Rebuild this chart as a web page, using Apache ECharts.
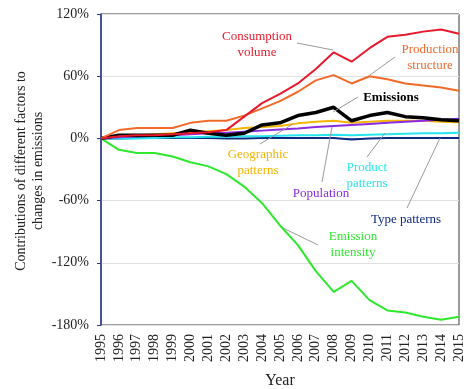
<!DOCTYPE html>
<html>
<head>
<meta charset="utf-8">
<script src="https://cdn.jsdelivr.net/npm/echarts@6/dist/echarts.min.js"></script>
<style>html,body{margin:0;padding:0;background:#fff;}#c{width:474px;height:389px;}</style>
</head>
<body>
<div id="c"></div>
<script>
var years = ['1995','1996','1997','1998','1999','2000','2001','2002','2003','2004','2005','2006','2007','2008','2009','2010','2011','2012','2013','2014','2015'];
var yTicks = [-180, -120, -60, 0, 60, 120];
var consumption = [0, 2, 3, 3, 4, 5, 6, 8, 21, 34, 43, 53, 67, 83, 74, 87, 98, 100, 103, 105, 101];
var production  = [0, 8, 10, 10, 10, 15, 17, 17, 22, 29, 36, 45, 56, 61, 53, 60, 57, 53, 51, 49, 46];
var emissions   = [0, 3, 3, 3, 3, 8, 5, 3, 5, 13, 15, 22, 25, 30, 17, 22, 25, 21, 20, 18, 17];
var geographic  = [0, 2, 3, 4, 5, 6, 7, 8, 10, 11, 12, 14.5, 16, 17, 15, 16, 17, 17, 17, 16, 15.5];
var population  = [0, 1, 2, 2.5, 3, 4, 5, 5.5, 6.5, 7.5, 8.5, 9.5, 11, 12, 13, 14, 15, 16, 17, 18, 19];
var product     = [0, 0, 0, 0.5, 1, 1, 1.5, 1.5, 2, 2, 2.5, 3, 3, 3.5, 3, 3.5, 4, 4.5, 5, 5, 5.5];
var typePat     = [0, 0, 0.5, 0.5, 0.5, 0.5, 0.5, 0, 0, 0.5, 0.5, 0.5, 0.5, 0.5, -1, 0, 0.5, 0.5, 0.5, 0.5, 0.5];
var intensity   = [0, -11, -14, -14, -17.5, -23, -27, -34.5, -46.5, -62.5, -84, -103, -128, -148, -137.5, -156, -166, -168, -172, -175, -172];
var yAxisTitle = 'Contributions of different factors to\nchanges in emissions';

var serif = '"Liberation Serif", "Times New Roman", serif';
var chart = echarts.init(document.getElementById('c'));

function mk(name, data, color, width, z) {
  return { name: name, type: 'line', data: data, symbol: 'none', z: z,
    lineStyle: { color: color, width: width }, itemStyle: { color: color } };
}

function txt(text, x, y, color, bold) {
  return { type: 'text', z: 100, style: { text: text, x: x, y: y, fill: color,
    font: (bold ? 'bold ' : '') + '13px ' + serif, align: 'center', verticalAlign: 'middle', lineHeight: 16 } };
}
function ln(x1, y1, x2, y2) {
  return { type: 'line', z: 99, shape: { x1: x1, y1: y1, x2: x2, y2: y2 }, style: { stroke: '#9a9a9a', lineWidth: 1 } };
}

chart.setOption({
  animation: false,
  backgroundColor: '#fff',
  grid: { left: 101, right: 15, top: 14, bottom: 64, show: true, borderColor: '#3a3a3a', borderWidth: 1,
    containLabel: false, outerBoundsMode: 'none' },
  xAxis: {
    type: 'category', data: years, boundaryGap: false,
    name: 'Year', nameLocation: 'middle', nameGap: 48,
    nameTextStyle: { fontFamily: serif, fontSize: 16, color: '#222' },
    axisLine: { lineStyle: { color: '#8d9cc4', width: 1 } },
    axisTick: { show: false },
    axisLabel: { rotate: 90, fontFamily: serif, fontSize: 14, color: '#222', margin: 9, interval: 0 }
  },
  yAxis: {
    type: 'value', min: yTicks[0], max: yTicks[yTicks.length - 1], interval: 60,
    axisLine: { show: true, lineStyle: { color: '#2b3990', width: 1.5 } },
    axisTick: { show: true, inside: false, length: 4, lineStyle: { color: '#2b3990' } },
    splitLine: { show: true, lineStyle: { color: '#e0e0e0', width: 1 } },
    axisLabel: { formatter: '{value}%', fontFamily: serif, fontSize: 14, color: '#222', margin: 12 }
  },
  series: [
    mk('Emission intensity', intensity, '#2ee82e', 2, 2),
    mk('Type patterns', typePat, '#0d2a80', 2, 3),
    mk('Product patterns', product, '#25e6ee', 2, 4),
    mk('Geographic patterns', geographic, '#f5b400', 2, 5),
    mk('Population', population, '#8a2be2', 2, 6),
    mk('Emissions', emissions, '#000000', 3.5, 7),
    mk('Production structure', production, '#f26a2a', 2, 8),
    mk('Consumption volume', consumption, '#e8192c', 2, 9)
  ],
  graphic: [
    { type: 'text', x: 30, y: 171, rotation: Math.PI / 2, z: 100,
      style: { text: yAxisTitle, x: 0, y: 0, fill: '#222', font: '14px ' + serif,
        align: 'center', verticalAlign: 'middle', lineHeight: 17 } },
    txt('Consumption\nvolume', 257, 45, '#e8192c'),
    ln(297, 43, 333, 50),
    txt('Production\nstructure', 430, 58, '#f26a2a'),
    ln(395, 57, 370, 75),
    txt('Emissions', 391, 98, '#000', true),
    ln(358, 97, 333, 112),
    txt('Geographic\npatterns', 258, 163, '#f5b400'),
    ln(260, 144, 293, 124),
    txt('Population', 321, 194, '#8a2be2'),
    ln(322, 182, 332, 127),
    txt('Product\npatterns', 367, 176, '#25e6ee'),
    ln(367, 157, 385, 133),
    txt('Type patterns', 406, 220, '#0d2a80'),
    ln(407, 208, 440, 138),
    txt('Emission\nintensity', 353, 245, '#2ee82e'),
    ln(318, 245, 283, 228)
  ]
});
</script>
</body>
</html>
